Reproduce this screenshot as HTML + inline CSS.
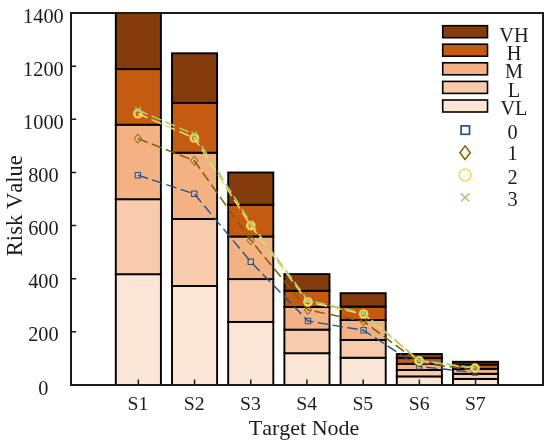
<!DOCTYPE html>
<html><head><meta charset="utf-8"><title>Risk Value by Target Node</title>
<style>html,body{margin:0;padding:0;background:#fff}svg{display:block}text{font-kerning:none;font-family:"Liberation Serif","Times New Roman",serif;fill:#1c1c1c}</style></head><body>
<svg width="550" height="444" viewBox="0 0 550 444">
<rect width="550" height="444" fill="#fff"/>
<defs><clipPath id="pa"><rect x="71.0" y="13.0" width="472.0" height="372.0"/></clipPath></defs>
<g clip-path="url(#pa)" stroke="#000" stroke-width="1.9" stroke-linejoin="miter">
<rect x="115.80" y="274.20" width="45.10" height="110.90" fill="#FBE5D6"/>
<rect x="115.80" y="199.20" width="45.10" height="75.00" fill="#F8CBAD"/>
<rect x="115.80" y="124.70" width="45.10" height="74.50" fill="#F4B183"/>
<rect x="115.80" y="69.10" width="45.10" height="55.60" fill="#C55A11"/>
<rect x="115.80" y="0.10" width="45.10" height="69.00" fill="#843C0C"/>
<rect x="172.00" y="286.00" width="45.10" height="99.10" fill="#FBE5D6"/>
<rect x="172.00" y="219.00" width="45.10" height="67.00" fill="#F8CBAD"/>
<rect x="172.00" y="152.70" width="45.10" height="66.30" fill="#F4B183"/>
<rect x="172.00" y="102.80" width="45.10" height="49.90" fill="#C55A11"/>
<rect x="172.00" y="53.30" width="45.10" height="49.50" fill="#843C0C"/>
<rect x="228.20" y="321.90" width="45.10" height="63.20" fill="#FBE5D6"/>
<rect x="228.20" y="279.10" width="45.10" height="42.80" fill="#F8CBAD"/>
<rect x="228.20" y="236.50" width="45.10" height="42.60" fill="#F4B183"/>
<rect x="228.20" y="204.70" width="45.10" height="31.80" fill="#C55A11"/>
<rect x="228.20" y="172.50" width="45.10" height="32.20" fill="#843C0C"/>
<rect x="284.40" y="353.20" width="45.10" height="31.90" fill="#FBE5D6"/>
<rect x="284.40" y="329.60" width="45.10" height="23.60" fill="#F8CBAD"/>
<rect x="284.40" y="306.90" width="45.10" height="22.70" fill="#F4B183"/>
<rect x="284.40" y="290.70" width="45.10" height="16.20" fill="#C55A11"/>
<rect x="284.40" y="274.10" width="45.10" height="16.60" fill="#843C0C"/>
<rect x="340.60" y="357.70" width="45.10" height="27.40" fill="#FBE5D6"/>
<rect x="340.60" y="339.90" width="45.10" height="17.80" fill="#F8CBAD"/>
<rect x="340.60" y="320.00" width="45.10" height="19.90" fill="#F4B183"/>
<rect x="340.60" y="306.60" width="45.10" height="13.40" fill="#C55A11"/>
<rect x="340.60" y="293.20" width="45.10" height="13.40" fill="#843C0C"/>
<rect x="396.80" y="376.40" width="45.10" height="8.70" fill="#FBE5D6"/>
<rect x="396.80" y="370.00" width="45.10" height="6.40" fill="#F8CBAD"/>
<rect x="396.80" y="363.80" width="45.10" height="6.20" fill="#F4B183"/>
<rect x="396.80" y="358.10" width="45.10" height="5.70" fill="#C55A11"/>
<rect x="396.80" y="354.00" width="45.10" height="4.10" fill="#843C0C"/>
<rect x="453.00" y="378.90" width="45.10" height="6.20" fill="#FBE5D6"/>
<rect x="453.00" y="373.80" width="45.10" height="5.10" fill="#F8CBAD"/>
<rect x="453.00" y="368.90" width="45.10" height="4.90" fill="#F4B183"/>
<rect x="453.00" y="364.50" width="45.10" height="4.40" fill="#C55A11"/>
<rect x="453.00" y="361.80" width="45.10" height="2.70" fill="#843C0C"/>
</g>
<rect x="71.0" y="13.0" width="472.0" height="372.0" fill="none" stroke="#1c1c1c" stroke-width="2"/>
<path d="M71.0 331.86h5.2 M71.0 278.71h5.2 M71.0 225.57h5.2 M71.0 172.43h5.2 M71.0 119.29h5.2 M71.0 66.14h5.2 M138.35 385.0v-5.5 M194.55 385.0v-5.5 M250.75 385.0v-5.5 M306.95 385.0v-5.5 M363.15 385.0v-5.5 M419.35 385.0v-5.5 M475.55 385.0v-5.5" stroke="#1c1c1c" stroke-width="1.5" fill="none"/>
<g font-size="20.3" text-anchor="middle">
<text x="43.4" y="394.5">0</text>
<text x="43.4" y="341.4">200</text>
<text x="43.4" y="288.2">400</text>
<text x="43.4" y="235.1">600</text>
<text x="43.4" y="181.9">800</text>
<text x="43.4" y="128.8">1000</text>
<text x="43.4" y="75.6">1200</text>
<text x="43.4" y="22.5">1400</text>
<text x="138.0" y="409.6" font-size="19.7">S1</text>
<text x="194.2" y="409.6" font-size="19.7">S2</text>
<text x="250.4" y="409.6" font-size="19.7">S3</text>
<text x="306.7" y="409.6" font-size="19.7">S4</text>
<text x="362.8" y="409.6" font-size="19.7">S5</text>
<text x="419.1" y="409.6" font-size="19.7">S6</text>
<text x="475.3" y="409.6" font-size="19.7">S7</text>
</g>
<text x="304" y="434.6" font-size="22" text-anchor="middle">Target Node</text>
<text transform="translate(22 256.2) rotate(-90)" font-size="22.6">Risk Value</text>
<g clip-path="url(#pa)">
<polyline points="137.90,175.20 194.30,193.80 250.80,261.80 308.00,321.00 363.60,330.30 419.10,366.40 475.00,372.50" fill="none" stroke="#1E5288" stroke-width="1.4" stroke-dasharray="10.5 4.5"/>
<rect x="135.20" y="172.50" width="5.4" height="5.4" fill="none" stroke="#1E5288" stroke-width="1"/>
<rect x="191.60" y="191.10" width="5.4" height="5.4" fill="none" stroke="#1E5288" stroke-width="1"/>
<rect x="248.10" y="259.10" width="5.4" height="5.4" fill="none" stroke="#1E5288" stroke-width="1"/>
<rect x="305.30" y="318.30" width="5.4" height="5.4" fill="none" stroke="#1E5288" stroke-width="1"/>
<rect x="360.90" y="327.60" width="5.4" height="5.4" fill="none" stroke="#1E5288" stroke-width="1"/>
<rect x="416.40" y="363.70" width="5.4" height="5.4" fill="none" stroke="#1E5288" stroke-width="1"/>
<rect x="472.30" y="369.80" width="5.4" height="5.4" fill="none" stroke="#1E5288" stroke-width="1"/>
<polyline points="137.90,138.60 194.30,160.70 250.80,240.30 308.00,309.90 363.60,321.40 419.10,362.60 475.00,370.20" fill="none" stroke="#7F6000" stroke-width="1.5" stroke-dasharray="10.5 4.5"/>
<path d="M137.90 134.00l3.6 4.6l-3.6 4.6l-3.6 -4.6z" fill="none" stroke="#7F6000" stroke-width="1"/>
<path d="M194.30 156.10l3.6 4.6l-3.6 4.6l-3.6 -4.6z" fill="none" stroke="#7F6000" stroke-width="1"/>
<path d="M250.80 235.70l3.6 4.6l-3.6 4.6l-3.6 -4.6z" fill="none" stroke="#7F6000" stroke-width="1"/>
<path d="M308.00 305.30l3.6 4.6l-3.6 4.6l-3.6 -4.6z" fill="none" stroke="#7F6000" stroke-width="1"/>
<path d="M363.60 316.80l3.6 4.6l-3.6 4.6l-3.6 -4.6z" fill="none" stroke="#7F6000" stroke-width="1"/>
<path d="M419.10 358.00l3.6 4.6l-3.6 4.6l-3.6 -4.6z" fill="none" stroke="#7F6000" stroke-width="1"/>
<path d="M475.00 365.60l3.6 4.6l-3.6 4.6l-3.6 -4.6z" fill="none" stroke="#7F6000" stroke-width="1"/>
<polyline points="137.90,113.70 194.30,138.00 250.80,225.60 308.00,302.00 363.60,314.00 419.10,360.80 475.00,368.10" fill="none" stroke="#FFD558" stroke-width="1.6" stroke-dasharray="10.5 4.5"/>
<circle cx="137.90" cy="113.70" r="3.65" fill="none" stroke="#FFD558" stroke-width="2.4"/>
<circle cx="194.30" cy="138.00" r="3.65" fill="none" stroke="#FFD558" stroke-width="2.4"/>
<circle cx="250.80" cy="225.60" r="3.65" fill="none" stroke="#FFD558" stroke-width="2.4"/>
<circle cx="308.00" cy="302.00" r="3.65" fill="none" stroke="#FFD558" stroke-width="2.4"/>
<circle cx="363.60" cy="314.00" r="3.65" fill="none" stroke="#FFD558" stroke-width="2.4"/>
<circle cx="419.10" cy="360.80" r="3.65" fill="none" stroke="#FFD558" stroke-width="2.4"/>
<circle cx="475.00" cy="368.10" r="3.65" fill="none" stroke="#FFD558" stroke-width="2.4"/>
<polyline points="137.90,110.00 194.30,134.40 250.80,223.10 308.00,300.40 363.60,313.20 419.10,360.40 475.00,367.90" fill="none" stroke="#A0CE82" stroke-width="1.6" stroke-dasharray="10.5 4.5"/>
<path d="M135.10 107.20l5.6 5.6m0 -5.6l-5.6 5.6" fill="none" stroke="#A0CE82" stroke-width="1.2"/>
<path d="M191.50 131.60l5.6 5.6m0 -5.6l-5.6 5.6" fill="none" stroke="#A0CE82" stroke-width="1.2"/>
<path d="M248.00 220.30l5.6 5.6m0 -5.6l-5.6 5.6" fill="none" stroke="#A0CE82" stroke-width="1.2"/>
<path d="M305.20 297.60l5.6 5.6m0 -5.6l-5.6 5.6" fill="none" stroke="#A0CE82" stroke-width="1.2"/>
<path d="M360.80 310.40l5.6 5.6m0 -5.6l-5.6 5.6" fill="none" stroke="#A0CE82" stroke-width="1.2"/>
<path d="M416.30 357.60l5.6 5.6m0 -5.6l-5.6 5.6" fill="none" stroke="#A0CE82" stroke-width="1.2"/>
<path d="M472.20 365.10l5.6 5.6m0 -5.6l-5.6 5.6" fill="none" stroke="#A0CE82" stroke-width="1.2"/>
</g>
<rect x="442.7" y="25.7" width="44.8" height="12" fill="#843C0C" stroke="#000" stroke-width="1.6"/>
<rect x="442.7" y="44.2" width="44.8" height="12" fill="#C55A11" stroke="#000" stroke-width="1.6"/>
<rect x="442.7" y="62.8" width="44.8" height="12" fill="#F4B183" stroke="#000" stroke-width="1.6"/>
<rect x="442.7" y="81.4" width="44.8" height="12" fill="#F8CBAD" stroke="#000" stroke-width="1.6"/>
<rect x="442.7" y="100.0" width="44.8" height="12" fill="#FBE5D6" stroke="#000" stroke-width="1.6"/>
<g font-size="20.3" text-anchor="middle">
<text x="514" y="41.5">VH</text>
<text x="514" y="59.7">H</text>
<text x="514" y="78.2">M</text>
<text x="514" y="97.0">L</text>
<text x="514" y="115.3">VL</text>
<text x="512.6" y="139.4">0</text>
<text x="512.6" y="159.6">1</text>
<text x="512.6" y="183.9">2</text>
<text x="512.6" y="205.9">3</text>
</g>
<rect x="461.1" y="125.9" width="8.4" height="8.4" fill="none" stroke="#1E5288" stroke-width="1.7"/>
<path d="M465.1 145.9l5.2 6.8l-5.2 6.8l-5.2 -6.8z" fill="none" stroke="#7F6000" stroke-width="1.5"/>
<circle cx="465.05" cy="174.9" r="5.95" fill="none" stroke="#FFD558" stroke-width="1.6"/>
<path d="M460.8 193.3l8.6 8.2m0 -8.2l-8.6 8.2" fill="none" stroke="#A0CE82" stroke-width="1.6"/>
</svg></body></html>
